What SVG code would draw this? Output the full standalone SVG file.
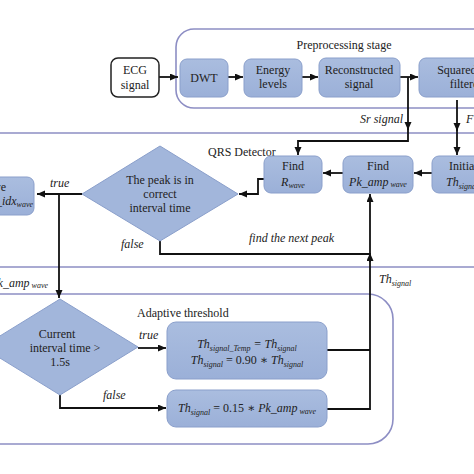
<svg xmlns="http://www.w3.org/2000/svg" width="474" height="474" viewBox="0 0 474 474" font-family="'Liberation Serif', 'DejaVu Serif', serif">
<defs>
<marker id="ah" markerUnits="userSpaceOnUse" markerWidth="9" markerHeight="8" refX="8" refY="3.5" orient="auto">
<path d="M0,0 L8,3.5 L0,7 z" fill="#111"/>
</marker>
<linearGradient id="bg" x1="0" y1="0" x2="0" y2="1">
<stop offset="0" stop-color="#aabddf"/>
<stop offset="1" stop-color="#9bb0d8"/>
</linearGradient>
</defs>
<style>
text{font-family:'Liberation Serif','DejaVu Serif',serif;font-size:12px;fill:#222}
.c{text-anchor:middle}
.e{text-anchor:end}
.i{font-style:italic}
.s{font-size:8px}
.box{fill:url(#bg);stroke:#8a9fcb;stroke-width:1}
.cont{fill:none;stroke:#8d8ec4;stroke-width:1.6}
.ln{fill:none;stroke:#111;stroke-width:1.8}
.ar{fill:none;stroke:#111;stroke-width:1.8;marker-end:url(#ah)}
</style>
<rect width="474" height="474" fill="#fff"/>
<g id="containers">
<rect class="cont" x="176" y="29" width="400" height="79" rx="18"/>
<rect class="cont" x="-30" y="133" width="540" height="134" rx="15"/>
<rect class="cont" x="-30" y="294" width="423" height="150" rx="25"/>
<text class="c" x="344" y="49">Preprocessing stage</text>
<text x="208" y="156" font-size="11">QRS Detector</text>
<text x="137" y="317">Adaptive threshold</text>
</g>
<g id="connectors">
<line class="ar" x1="159" y1="77" x2="178" y2="77"/>
<line class="ar" x1="228" y1="77" x2="243" y2="77"/>
<line class="ar" x1="302" y1="77" x2="318" y2="77"/>
<line class="ar" x1="400" y1="77" x2="418" y2="77"/>
<line class="ar" x1="408" y1="77" x2="408" y2="130"/>
<polyline class="ar" points="408,128 408,141 298,141 298,155"/>
<line class="ar" x1="457" y1="100" x2="457" y2="131"/>
<line class="ar" x1="457" y1="129" x2="457" y2="155"/>
<line class="ar" x1="432" y1="173" x2="414" y2="173"/>
<line class="ar" x1="343" y1="173" x2="323" y2="173"/>
<polyline class="ar" points="264,179 258,179 258,194 239,194"/>
<line class="ar" x1="82" y1="194" x2="37" y2="194"/>
<line class="ar" x1="59" y1="194" x2="59" y2="298"/>
<polyline class="ln" points="160,241 160,254 370,254"/>
<polyline class="ln" points="327,350 370,350"/>
<polyline class="ln" points="327,409 370,409 370,260"/>
<line class="ar" x1="370" y1="262" x2="370" y2="253"/>
<line class="ar" x1="370" y1="256" x2="370" y2="194"/>
<line class="ar" x1="138" y1="348" x2="166" y2="348"/>
<polyline class="ar" points="60,395 60,408 166,408"/>
<text class="i" x="360" y="123">Sr signal</text>
<text class="i" x="466" y="123">F</text>
<text class="i" x="50" y="187">true</text>
<text class="i" x="121" y="248">false</text>
<text class="i" x="249" y="242">find the next peak</text>
<text class="i e" x="48" y="287">Pk_amp<tspan class="s" dy="1"> wave</tspan></text>
<text class="i" x="379" y="283">Th<tspan class="s" dy="3">signal</tspan></text>
<text class="i" x="139" y="339">true</text>
<text class="i" x="103" y="399">false</text>
</g>
<g id="ecg">
<rect x="111" y="58" width="48" height="39" rx="7" fill="#fff" stroke="#222" stroke-width="1.5"/>
<text class="c" x="135" y="74">ECG</text>
<text class="c" x="135" y="89">signal</text>
</g>
<g id="dwt">
<rect class="box" x="180" y="59" width="48" height="38" rx="7"/>
<text class="c" x="204" y="82">DWT</text>
</g>
<g id="energy">
<rect class="box" x="244" y="59" width="58" height="38" rx="7"/>
<text class="c" x="273" y="74">Energy</text>
<text class="c" x="273" y="88">levels</text>
</g>
<g id="recon">
<rect class="box" x="319" y="58" width="81" height="39" rx="7"/>
<text class="c" x="359" y="74">Reconstructed</text>
<text class="c" x="359" y="88">signal</text>
</g>
<g id="squared">
<rect class="box" x="419" y="58" width="90" height="39" rx="7"/>
<text class="c" x="467" y="74">Squared and</text>
<text class="c" x="467" y="88">filtered</text>
</g>
<g id="initial">
<rect class="box" x="432" y="156" width="80" height="37" rx="7"/>
<text x="449" y="170">Initial</text>
<text class="i" x="446" y="186">Th<tspan class="s" dy="3">signal</tspan></text>
</g>
<g id="findpk">
<rect class="box" x="343" y="156" width="70" height="37" rx="7"/>
<text class="c" x="378" y="170">Find</text>
<text class="i c" x="378" y="186">Pk_amp<tspan class="s" dy="1"> wave</tspan></text>
</g>
<g id="findr">
<rect class="box" x="264" y="156" width="58" height="37" rx="7"/>
<text class="c" x="293" y="170">Find</text>
<text class="i c" x="293" y="186">R<tspan class="s" dy="2">wave</tspan></text>
</g>
<g id="peakcheck">
<polygon points="160,146 238,194 160,241 82,194" fill="#a2b6db" stroke="#8a9fcb" stroke-width="1"/>
<text class="c" x="160" y="184">The peak is in</text>
<text class="c" x="160" y="198">correct</text>
<text class="c" x="160" y="212">interval time</text>
</g>
<g id="save">
<rect class="box" x="-40" y="177" width="74" height="38" rx="7"/>
<text class="e" x="6" y="191">Save</text>
<text class="i e" x="33" y="205">R_idx<tspan class="s" dy="2">wave</tspan></text>
</g>
<g id="intervalcheck">
<polygon points="60,299 138,347 60,395 -18,347" fill="#a2b6db" stroke="#8a9fcb" stroke-width="1"/>
<text class="c" x="57" y="338">Current</text>
<text class="c" x="65" y="352">interval time &gt;</text>
<text class="c" x="60" y="366">1.5s</text>
</g>
<g id="thtemp">
<rect class="box" x="167" y="322" width="160" height="57" rx="9"/>
<text class="c i" x="247" y="348">Th<tspan class="s" dy="3">signal_Temp</tspan><tspan dy="-3"> = Th</tspan><tspan class="s" dy="3">signal</tspan></text>
<text class="c i" x="247" y="364">Th<tspan class="s" dy="3">signal</tspan><tspan dy="-3" font-style="normal"> = 0.90 ∗ </tspan><tspan>Th</tspan><tspan class="s" dy="3">signal</tspan></text>
</g>
<g id="thpk">
<rect class="box" x="167" y="390" width="160" height="37" rx="9"/>
<text class="c i" x="247" y="412">Th<tspan class="s" dy="3">signal</tspan><tspan dy="-3" font-style="normal"> = 0.15 ∗ </tspan><tspan>Pk_amp</tspan><tspan class="s" dy="2"> wave</tspan></text>
</g>
</svg>
